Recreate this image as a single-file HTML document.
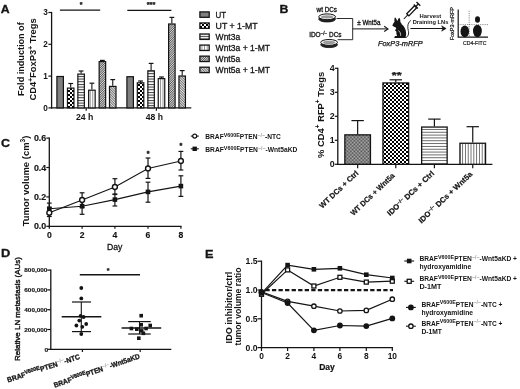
<!DOCTYPE html>
<html><head><meta charset="utf-8"><title>Figure</title>
<style>
html,body{margin:0;padding:0;background:#fff;}
svg{display:block;font-family:"Liberation Sans",sans-serif;filter:blur(0.35px);}
</style></head><body>
<svg width="520" height="389" viewBox="0 0 520 389">
<defs>
<pattern id="chk" width="4" height="4" patternUnits="userSpaceOnUse" x="68" y="92" shape-rendering="crispEdges"><rect width="4" height="4" fill="#000"/><rect width="2" height="2" fill="#fff"/><rect x="2" y="2" width="2" height="2" fill="#fff"/></pattern>
<pattern id="chkB" width="4" height="4" patternUnits="userSpaceOnUse" x="384" y="83" shape-rendering="crispEdges"><rect width="4" height="4" fill="#000"/><rect width="2" height="2" fill="#fff"/><rect x="2" y="2" width="2" height="2" fill="#fff"/></pattern>
<pattern id="hl" width="3" height="2.67" patternUnits="userSpaceOnUse" y="75.9"><rect width="3" height="2.67" fill="#fff"/><rect y="0" width="3" height="1" fill="#333"/></pattern>
<pattern id="hlB" width="3" height="2.83" patternUnits="userSpaceOnUse" y="128.95"><rect width="3" height="2.83" fill="#fff"/><rect y="0" width="3" height="0.95" fill="#666"/></pattern>
<pattern id="vl" width="2.6" height="3" patternUnits="userSpaceOnUse" x="89.75"><rect width="2.6" height="3" fill="#fff"/><rect x="0" width="0.9" height="3" fill="#888"/></pattern>
<pattern id="vlB" width="2.8" height="3" patternUnits="userSpaceOnUse" x="462.15"><rect width="2.8" height="3" fill="#fff"/><rect x="0" width="0.9" height="3" fill="#666"/></pattern>
<pattern id="fine" width="1.6" height="1.6" patternUnits="userSpaceOnUse" patternTransform="rotate(45)"><rect width="1.6" height="1.6" fill="#dcdcdc"/><rect width="0.8" height="1.6" fill="#555"/></pattern>
<pattern id="diag" width="1.8" height="1.8" patternUnits="userSpaceOnUse" patternTransform="rotate(-45)"><rect width="1.8" height="1.8" fill="#e2e2e2"/><rect width="0.8" height="1.8" fill="#666"/></pattern>
<pattern id="dots" width="1.4" height="1.4" patternUnits="userSpaceOnUse"><rect width="1.4" height="1.4" fill="#bbb"/><rect width="0.7" height="0.7" fill="#444"/><rect x="0.7" y="0.7" width="0.7" height="0.7" fill="#444"/></pattern>
</defs>
<rect width="520" height="389" fill="#fff"/>

<g id="panelA">
<text x="0.8" y="13.4" font-size="11.3" font-weight="bold" text-anchor="start" fill="#141414" textLength="8.9" lengthAdjust="spacingAndGlyphs" stroke="#141414" stroke-width="0.3" >A</text>
<line x1="51.6" y1="11.9" x2="51.6" y2="108.55000000000001" stroke="#141414" stroke-width="1.3" />
<line x1="50.95" y1="107.9" x2="191.3" y2="107.9" stroke="#141414" stroke-width="1.3" />
<line x1="48.4" y1="107.9" x2="51.6" y2="107.9" stroke="#141414" stroke-width="1.2" />
<text x="47.9" y="110.80000000000001" font-size="8.2" font-weight="bold" text-anchor="end" fill="#141414" >0</text>
<line x1="48.4" y1="76.1" x2="51.6" y2="76.1" stroke="#141414" stroke-width="1.2" />
<text x="47.9" y="79.0" font-size="8.2" font-weight="bold" text-anchor="end" fill="#141414" >1</text>
<line x1="48.4" y1="44.3" x2="51.6" y2="44.3" stroke="#141414" stroke-width="1.2" />
<text x="47.9" y="47.199999999999996" font-size="8.2" font-weight="bold" text-anchor="end" fill="#141414" >2</text>
<line x1="48.4" y1="12.5" x2="51.6" y2="12.5" stroke="#141414" stroke-width="1.2" />
<text x="47.9" y="15.4" font-size="8.2" font-weight="bold" text-anchor="end" fill="#141414" >3</text>
<text transform="translate(24.3,59.15) rotate(-90)" font-size="9.9" font-weight="bold" text-anchor="middle" fill="#141414" textLength="73.7" lengthAdjust="spacingAndGlyphs" >Fold induction of</text>
<text transform="translate(36,59.45) rotate(-90)" font-size="9.8" font-weight="bold" text-anchor="middle" fill="#141414" textLength="82.3" lengthAdjust="spacingAndGlyphs" ><tspan dy="0">CD4</tspan><tspan dy="-3.3" font-size="7">+</tspan><tspan dy="3.3">FoxP3</tspan><tspan dy="-3.3" font-size="7">+</tspan><tspan dy="3.3"> Tregs</tspan></text>
<rect x="56.90" y="76.50" width="6.50" height="31.40" fill="#7f7f7f" stroke="#141414" stroke-width="1.2"/>
<line x1="70.7" y1="87.5" x2="70.7" y2="83.5" stroke="#141414" stroke-width="1.1" />
<line x1="68.3" y1="83.5" x2="73.10000000000001" y2="83.5" stroke="#141414" stroke-width="1.2" />
<rect x="67.45" y="88.10" width="6.50" height="19.80" fill="url(#chk)" stroke="#141414" stroke-width="1.2"/>
<line x1="81.1" y1="73.5" x2="81.1" y2="71" stroke="#141414" stroke-width="1.1" />
<line x1="78.69999999999999" y1="71" x2="83.5" y2="71" stroke="#141414" stroke-width="1.2" />
<rect x="77.85" y="74.10" width="6.50" height="33.80" fill="url(#hl)" stroke="#141414" stroke-width="1.2"/>
<line x1="91.9" y1="89.6" x2="91.9" y2="83.2" stroke="#141414" stroke-width="1.1" />
<line x1="89.5" y1="83.2" x2="94.30000000000001" y2="83.2" stroke="#141414" stroke-width="1.2" />
<rect x="88.65" y="90.20" width="6.50" height="17.70" fill="url(#vl)" stroke="#141414" stroke-width="1.2"/>
<line x1="102.4" y1="61" x2="102.4" y2="60.4" stroke="#141414" stroke-width="1.1" />
<line x1="100.0" y1="60.4" x2="104.80000000000001" y2="60.4" stroke="#141414" stroke-width="1.2" />
<rect x="99.15" y="61.60" width="6.50" height="46.30" fill="url(#fine)" stroke="#141414" stroke-width="1.2"/>
<line x1="112.75" y1="85.8" x2="112.75" y2="79.6" stroke="#141414" stroke-width="1.1" />
<line x1="110.35" y1="79.6" x2="115.15" y2="79.6" stroke="#141414" stroke-width="1.2" />
<rect x="109.50" y="86.40" width="6.50" height="21.50" fill="url(#diag)" stroke="#141414" stroke-width="1.2"/>
<rect x="126.90" y="76.70" width="6.50" height="31.20" fill="#7f7f7f" stroke="#141414" stroke-width="1.2"/>
<line x1="140.55" y1="82.2" x2="140.55" y2="81" stroke="#141414" stroke-width="1.1" />
<line x1="138.15" y1="81" x2="142.95000000000002" y2="81" stroke="#141414" stroke-width="1.2" />
<rect x="137.30" y="82.80" width="6.50" height="25.10" fill="url(#chk)" stroke="#141414" stroke-width="1.2"/>
<line x1="151.1" y1="70.2" x2="151.1" y2="63.4" stroke="#141414" stroke-width="1.1" />
<line x1="148.7" y1="63.4" x2="153.5" y2="63.4" stroke="#141414" stroke-width="1.2" />
<rect x="147.85" y="70.80" width="6.50" height="37.10" fill="url(#hl)" stroke="#141414" stroke-width="1.2"/>
<line x1="161.5" y1="78" x2="161.5" y2="77" stroke="#141414" stroke-width="1.1" />
<line x1="159.1" y1="77" x2="163.9" y2="77" stroke="#141414" stroke-width="1.2" />
<rect x="158.25" y="78.60" width="6.50" height="29.30" fill="url(#vl)" stroke="#141414" stroke-width="1.2"/>
<line x1="171.85" y1="23.4" x2="171.85" y2="17.4" stroke="#141414" stroke-width="1.1" />
<line x1="169.45" y1="17.4" x2="174.25" y2="17.4" stroke="#141414" stroke-width="1.2" />
<rect x="168.60" y="24.00" width="6.50" height="83.90" fill="url(#fine)" stroke="#141414" stroke-width="1.2"/>
<line x1="182.2" y1="75.4" x2="182.2" y2="70.6" stroke="#141414" stroke-width="1.1" />
<line x1="179.79999999999998" y1="70.6" x2="184.6" y2="70.6" stroke="#141414" stroke-width="1.2" />
<rect x="178.95" y="76.00" width="6.50" height="31.90" fill="url(#diag)" stroke="#141414" stroke-width="1.2"/>
<line x1="86.2" y1="107.9" x2="86.2" y2="110.7" stroke="#141414" stroke-width="1.2" />
<line x1="156.4" y1="107.9" x2="156.4" y2="110.7" stroke="#141414" stroke-width="1.2" />
<text x="84.6" y="120" font-size="8.6" font-weight="bold" text-anchor="middle" fill="#141414" textLength="17.4" lengthAdjust="spacingAndGlyphs" >24 h</text>
<text x="154.4" y="120" font-size="8.6" font-weight="bold" text-anchor="middle" fill="#141414" textLength="17.2" lengthAdjust="spacingAndGlyphs" >48 h</text>
<line x1="59.9" y1="10.1" x2="100.2" y2="10.1" stroke="#141414" stroke-width="1.2" />
<line x1="127.3" y1="10.3" x2="171.4" y2="10.3" stroke="#141414" stroke-width="1.2" />
<text x="81.2" y="7.4" font-size="7" font-weight="bold" text-anchor="middle" fill="#141414" stroke="#141414" stroke-width="0.25" >*</text>
<text x="151" y="7.4" font-size="7" font-weight="bold" text-anchor="middle" fill="#141414" textLength="8.6" lengthAdjust="spacingAndGlyphs" stroke="#141414" stroke-width="0.25" >***</text>
<rect x="199.9" y="11.90" width="9.3" height="5.4" fill="#7f7f7f" stroke="#141414" stroke-width="1.3"/>
<text x="215.6" y="17.75" font-size="8.9" font-weight="normal" text-anchor="start" fill="#141414" textLength="10.6" lengthAdjust="spacingAndGlyphs" stroke="#141414" stroke-width="0.3" >UT</text>
<rect x="199.9" y="22.96" width="9.3" height="5.4" fill="url(#chk)" stroke="#141414" stroke-width="1.3"/>
<text x="215.6" y="28.81" font-size="8.9" font-weight="normal" text-anchor="start" fill="#141414" textLength="42" lengthAdjust="spacingAndGlyphs" stroke="#141414" stroke-width="0.3" >UT + 1-MT</text>
<rect x="199.9" y="34.02" width="9.3" height="5.4" fill="url(#hl)" stroke="#141414" stroke-width="1.3"/>
<text x="215.6" y="39.87" font-size="8.9" font-weight="normal" text-anchor="start" fill="#141414" textLength="24.6" lengthAdjust="spacingAndGlyphs" stroke="#141414" stroke-width="0.3" >Wnt3a</text>
<rect x="199.9" y="45.08" width="9.3" height="5.4" fill="url(#vl)" stroke="#141414" stroke-width="1.3"/>
<text x="215.6" y="50.93" font-size="8.9" font-weight="normal" text-anchor="start" fill="#141414" textLength="54.4" lengthAdjust="spacingAndGlyphs" stroke="#141414" stroke-width="0.3" >Wnt3a + 1-MT</text>
<rect x="199.9" y="56.14" width="9.3" height="5.4" fill="url(#fine)" stroke="#141414" stroke-width="1.3"/>
<text x="215.6" y="61.99" font-size="8.9" font-weight="normal" text-anchor="start" fill="#141414" textLength="24.6" lengthAdjust="spacingAndGlyphs" stroke="#141414" stroke-width="0.3" >Wnt5a</text>
<rect x="199.9" y="67.20" width="9.3" height="5.4" fill="url(#diag)" stroke="#141414" stroke-width="1.3"/>
<text x="215.6" y="73.05" font-size="8.9" font-weight="normal" text-anchor="start" fill="#141414" textLength="54.4" lengthAdjust="spacingAndGlyphs" stroke="#141414" stroke-width="0.3" >Wnt5a + 1-MT</text>
</g>
<g id="panelB">
<text x="279.6" y="13.1" font-size="11.3" font-weight="bold" text-anchor="start" fill="#141414" textLength="8.9" lengthAdjust="spacingAndGlyphs" stroke="#141414" stroke-width="0.3" >B</text>
<text x="316.6" y="12" font-size="6.4" font-weight="normal" text-anchor="start" fill="#141414" textLength="20.4" lengthAdjust="spacingAndGlyphs" stroke="#141414" stroke-width="0.3" >wt DCs</text>
<ellipse cx="327.1" cy="19.099999999999998" rx="8.4" ry="2.9" fill="#222" stroke="#141414" stroke-width="0.8"/>
<ellipse cx="327.1" cy="16.8" rx="8.4" ry="2.9" fill="#f4f4f4" stroke="#141414" stroke-width="1"/>
<ellipse cx="327.1" cy="16.9" rx="6.2" ry="1.7" fill="#9a9a9a" stroke="none"/>
<text x="309.2" y="37" font-size="6.4" font-weight="normal" text-anchor="start" fill="#141414" textLength="32.4" lengthAdjust="spacingAndGlyphs" stroke="#141414" stroke-width="0.3" ><tspan dy="0">IDO</tspan><tspan dy="-2.2" font-size="4.6">−/−</tspan><tspan dy="2.2"> DCs</tspan></text>
<ellipse cx="329.1" cy="44.699999999999996" rx="8.4" ry="2.9" fill="#222" stroke="#141414" stroke-width="0.8"/>
<ellipse cx="329.1" cy="42.4" rx="8.4" ry="2.9" fill="#f4f4f4" stroke="#141414" stroke-width="1"/>
<ellipse cx="329.1" cy="42.5" rx="6.2" ry="1.7" fill="#9a9a9a" stroke="none"/>
<path d="M336.5,18.5 H352.7 V39.7 H337.6" fill="none" stroke="#141414" stroke-width="0.9"/>
<line x1="352.7" y1="28.9" x2="387.4" y2="28.9" stroke="#141414" stroke-width="1" />
<path d="M384.2,26.3 L388,28.9 L384.2,31.5" fill="none" stroke="#141414" stroke-width="1.1"/>
<text x="357.3" y="25" font-size="6.4" font-weight="normal" text-anchor="start" fill="#141414" textLength="23.1" lengthAdjust="spacingAndGlyphs" stroke="#141414" stroke-width="0.3" >± Wnt5a</text>
<g fill="#141414" stroke="none">
<path d="M392.3,25.6 C393,24 393.8,22.6 394.6,21.6 C394.2,20 394.4,18.2 395,17.2 C396,18 396.6,19.2 396.9,20.4 L397.6,20.8 C397.9,19.6 398.5,18.4 399.4,17.8 C400.2,19 400.5,20.6 400.3,21.9 C401,22.6 401.4,23.4 401.7,24.2 C404,26 405.8,29 406.1,32.5 C406.3,34.8 405.9,36.6 405.3,37.9 L394.4,37.9 C394.2,37 394.6,36.3 395.6,36.1 L397.2,36 C396.4,34.8 396.2,33.2 396.5,31.8 L395.1,30.6 C395.2,29.6 395.7,29 396.4,28.7 C396,28.2 395.7,27.7 395.5,27.2 C394.2,27 393,26.4 392.3,25.6 Z"/>
</g>
<path d="M404.6,37.5 C408.6,37.6 409,33.5 408.3,30.6 C407.6,27.6 407.6,25 408.6,23 C409.2,21.8 410,21 410.9,20.4" fill="none" stroke="#141414" stroke-width="0.9"/>
<path d="M398.3,30.6 C399.9,31.4 400.9,33.4 400.6,35.8" fill="none" stroke="#fff" stroke-width="0.7"/>
<g transform="translate(411.7,10.8) rotate(-46)">
<rect x="-5.6" y="-1.5" width="11.2" height="3" fill="#fff" stroke="#141414" stroke-width="1.3"/>
<line x1="-5.6" y1="0" x2="-11.4" y2="0" stroke="#141414" stroke-width="1"/>
<line x1="5.6" y1="0" x2="9.6" y2="0" stroke="#141414" stroke-width="1.3"/>
<line x1="9.6" y1="-2.6" x2="9.6" y2="2.6" stroke="#141414" stroke-width="1.4"/>
<line x1="5.9" y1="-2.8" x2="5.9" y2="2.8" stroke="#141414" stroke-width="1.4"/>
</g>
<text x="419.6" y="17.6" font-size="6.2" font-weight="bold" text-anchor="start" fill="#141414" textLength="21.6" lengthAdjust="spacingAndGlyphs" >Harvest</text>
<text x="412.7" y="24.3" font-size="6.2" font-weight="bold" text-anchor="start" fill="#141414" textLength="35.7" lengthAdjust="spacingAndGlyphs" >Draining LNs</text>
<line x1="410.4" y1="28.5" x2="444" y2="28.5" stroke="#141414" stroke-width="1.2" />
<path d="M441.6,25.8 L446.2,28.5 L441.6,31.2 L442.8,28.5 Z" fill="#141414" stroke="#141414" stroke-width="0.5"/>
<text x="378" y="45.7" font-size="7.1" font-weight="normal" text-anchor="start" fill="#141414" textLength="44.7" lengthAdjust="spacingAndGlyphs" stroke="#141414" stroke-width="0.25" font-style="italic">FoxP3-mRFP</text>
<path d="M458.2,9.5 V37.2 H488" fill="none" stroke="#141414" stroke-width="1.2"/>
<line x1="469.2" y1="10.8" x2="469.2" y2="37" stroke="#333" stroke-width="0.6" stroke-dasharray="1.1 1.1"/>
<line x1="458.2" y1="24.6" x2="488" y2="24.6" stroke="#333" stroke-width="0.6" stroke-dasharray="1.1 1.1"/>
<ellipse cx="464.8" cy="31.4" rx="4.3" ry="5.8" fill="#141414"/>
<ellipse cx="477.4" cy="31" rx="4.4" ry="6.2" fill="#141414"/>
<ellipse cx="477.5" cy="19.5" rx="2.5" ry="3.3" fill="#141414"/>
<text transform="translate(454.3,23.7) rotate(-90)" font-size="5.8" font-weight="normal" text-anchor="middle" fill="#141414" textLength="33.3" lengthAdjust="spacingAndGlyphs" stroke="#141414" stroke-width="0.2" >FoxP3-mRFP</text>
<text x="463" y="44.9" font-size="6.2" font-weight="normal" text-anchor="start" fill="#141414" textLength="23.5" lengthAdjust="spacingAndGlyphs" stroke="#141414" stroke-width="0.2" >CD4-FITC</text>
<line x1="337.8" y1="67.7" x2="337.8" y2="164.95000000000002" stroke="#141414" stroke-width="1.3" />
<line x1="337.15000000000003" y1="164.3" x2="492.4" y2="164.3" stroke="#141414" stroke-width="1.3" />
<line x1="334.8" y1="164.3" x2="337.8" y2="164.3" stroke="#141414" stroke-width="1.2" />
<text x="334.6" y="167.4" font-size="8.8" font-weight="bold" text-anchor="end" fill="#141414" >0</text>
<line x1="334.8" y1="140.3" x2="337.8" y2="140.3" stroke="#141414" stroke-width="1.2" />
<text x="334.6" y="143.4" font-size="8.8" font-weight="bold" text-anchor="end" fill="#141414" >1</text>
<line x1="334.8" y1="116.3" x2="337.8" y2="116.3" stroke="#141414" stroke-width="1.2" />
<text x="334.6" y="119.39999999999999" font-size="8.8" font-weight="bold" text-anchor="end" fill="#141414" >2</text>
<line x1="334.8" y1="92.3" x2="337.8" y2="92.3" stroke="#141414" stroke-width="1.2" />
<text x="334.6" y="95.39999999999999" font-size="8.8" font-weight="bold" text-anchor="end" fill="#141414" >3</text>
<line x1="334.8" y1="68.3" x2="337.8" y2="68.3" stroke="#141414" stroke-width="1.2" />
<text x="334.6" y="71.39999999999999" font-size="8.8" font-weight="bold" text-anchor="end" fill="#141414" >4</text>
<text transform="translate(323.7,114.85) rotate(-90)" font-size="9.7" font-weight="bold" text-anchor="middle" fill="#141414" textLength="86.1" lengthAdjust="spacingAndGlyphs" ><tspan dy="0">% CD4</tspan><tspan dy="-3.3" font-size="6.9">+</tspan><tspan dy="3.3"> RFP</tspan><tspan dy="-3.3" font-size="6.9">+</tspan><tspan dy="3.3"> Tregs</tspan></text>
<line x1="357.65" y1="134.2" x2="357.65" y2="120.6" stroke="#141414" stroke-width="1.2" />
<line x1="351.45" y1="120.6" x2="363.84999999999997" y2="120.6" stroke="#141414" stroke-width="1.2" />
<rect x="344.85" y="134.85" width="25.60" height="29.45" fill="url(#dots)" stroke="#141414" stroke-width="1.3"/>
<line x1="357.65" y1="164.3" x2="357.65" y2="168.20000000000002" stroke="#141414" stroke-width="1.2" />
<text transform="translate(358.9,173.9) rotate(-43.5)" font-size="7.6" font-weight="bold" text-anchor="end" fill="#141414" textLength="50.5" lengthAdjust="spacingAndGlyphs" stroke="#141414" stroke-width="0.2" >WT DCs + Ctrl</text>
<line x1="395.8" y1="82.3" x2="395.8" y2="79.8" stroke="#141414" stroke-width="1.2" />
<line x1="389.6" y1="79.8" x2="402.0" y2="79.8" stroke="#141414" stroke-width="1.2" />
<rect x="382.95" y="82.95" width="25.70" height="81.35" fill="url(#chkB)" stroke="#141414" stroke-width="1.3"/>
<line x1="395.8" y1="164.3" x2="395.8" y2="168.20000000000002" stroke="#141414" stroke-width="1.2" />
<text transform="translate(395.3,176.3) rotate(-43.5)" font-size="7.6" font-weight="bold" text-anchor="end" fill="#141414" textLength="57.8" lengthAdjust="spacingAndGlyphs" stroke="#141414" stroke-width="0.2" >WT DCs + Wnt5a</text>
<line x1="434.4" y1="126.4" x2="434.4" y2="119.1" stroke="#141414" stroke-width="1.2" />
<line x1="428.2" y1="119.1" x2="440.59999999999997" y2="119.1" stroke="#141414" stroke-width="1.2" />
<rect x="421.65" y="127.05" width="25.50" height="37.25" fill="url(#hlB)" stroke="#141414" stroke-width="1.3"/>
<line x1="434.4" y1="164.3" x2="434.4" y2="168.20000000000002" stroke="#141414" stroke-width="1.2" />
<text transform="translate(434.7,174) rotate(-43.5)" font-size="7.6" font-weight="bold" text-anchor="end" fill="#141414" textLength="61.5" lengthAdjust="spacingAndGlyphs" stroke="#141414" stroke-width="0.2" ><tspan dy="0">IDO</tspan><tspan dy="-2.4" font-size="5">−/−</tspan><tspan dy="2.4"> DCs + </tspan><tspan dy="0">Ctrl</tspan></text>
<line x1="472.75" y1="142.6" x2="472.75" y2="126.7" stroke="#141414" stroke-width="1.2" />
<line x1="466.55" y1="126.7" x2="478.95" y2="126.7" stroke="#141414" stroke-width="1.2" />
<rect x="459.95" y="143.25" width="25.60" height="21.05" fill="url(#vlB)" stroke="#141414" stroke-width="1.3"/>
<line x1="472.75" y1="164.3" x2="472.75" y2="168.20000000000002" stroke="#141414" stroke-width="1.2" />
<text transform="translate(473,174.7) rotate(-43.5)" font-size="7.6" font-weight="bold" text-anchor="end" fill="#141414" textLength="71.1" lengthAdjust="spacingAndGlyphs" stroke="#141414" stroke-width="0.2" ><tspan dy="0">IDO</tspan><tspan dy="-2.4" font-size="5">−/−</tspan><tspan dy="2.4"> DCs + </tspan><tspan dy="0">Wnt5a</tspan></text>
<text x="396.7" y="78.2" font-size="9" font-weight="bold" text-anchor="middle" fill="#141414" textLength="9.8" lengthAdjust="spacingAndGlyphs" stroke="#141414" stroke-width="0.25" >**</text>
</g>
<g id="panelC">
<text x="0.9" y="146.6" font-size="11.6" font-weight="bold" text-anchor="start" fill="#141414" textLength="9" lengthAdjust="spacingAndGlyphs" stroke="#141414" stroke-width="0.3" >C</text>
<line x1="49.3" y1="137.5" x2="49.3" y2="226.95000000000002" stroke="#141414" stroke-width="1.3" />
<line x1="48.65" y1="226.3" x2="181.5" y2="226.3" stroke="#141414" stroke-width="1.3" />
<line x1="46.3" y1="226.3" x2="49.3" y2="226.3" stroke="#141414" stroke-width="1.2" />
<text x="33.9" y="229.3" font-size="8.5" font-weight="bold" text-anchor="start" fill="#141414" textLength="12.4" lengthAdjust="spacingAndGlyphs" stroke="#141414" stroke-width="0.15" >0.0</text>
<line x1="46.3" y1="196.9" x2="49.3" y2="196.9" stroke="#141414" stroke-width="1.2" />
<text x="33.9" y="199.9" font-size="8.5" font-weight="bold" text-anchor="start" fill="#141414" textLength="12.4" lengthAdjust="spacingAndGlyphs" stroke="#141414" stroke-width="0.15" >0.2</text>
<line x1="46.3" y1="167.5" x2="49.3" y2="167.5" stroke="#141414" stroke-width="1.2" />
<text x="33.9" y="170.5" font-size="8.5" font-weight="bold" text-anchor="start" fill="#141414" textLength="12.4" lengthAdjust="spacingAndGlyphs" stroke="#141414" stroke-width="0.15" >0.4</text>
<line x1="46.3" y1="138.1" x2="49.3" y2="138.1" stroke="#141414" stroke-width="1.2" />
<text x="33.9" y="141.1" font-size="8.5" font-weight="bold" text-anchor="start" fill="#141414" textLength="12.4" lengthAdjust="spacingAndGlyphs" stroke="#141414" stroke-width="0.15" >0.6</text>
<line x1="49.3" y1="226.3" x2="49.3" y2="228.70000000000002" stroke="#141414" stroke-width="1.2" />
<text x="49.3" y="237.7" font-size="8.6" font-weight="bold" text-anchor="middle" fill="#141414" stroke="#141414" stroke-width="0.15" >0</text>
<line x1="82.1" y1="226.3" x2="82.1" y2="228.70000000000002" stroke="#141414" stroke-width="1.2" />
<text x="82.1" y="237.7" font-size="8.6" font-weight="bold" text-anchor="middle" fill="#141414" stroke="#141414" stroke-width="0.15" >2</text>
<line x1="114.9" y1="226.3" x2="114.9" y2="228.70000000000002" stroke="#141414" stroke-width="1.2" />
<text x="114.9" y="237.7" font-size="8.6" font-weight="bold" text-anchor="middle" fill="#141414" stroke="#141414" stroke-width="0.15" >4</text>
<line x1="148" y1="226.3" x2="148" y2="228.70000000000002" stroke="#141414" stroke-width="1.2" />
<text x="148" y="237.7" font-size="8.6" font-weight="bold" text-anchor="middle" fill="#141414" stroke="#141414" stroke-width="0.15" >6</text>
<line x1="180.9" y1="226.3" x2="180.9" y2="228.70000000000002" stroke="#141414" stroke-width="1.2" />
<text x="180.9" y="237.7" font-size="8.6" font-weight="bold" text-anchor="middle" fill="#141414" stroke="#141414" stroke-width="0.15" >8</text>
<text x="106.9" y="250.1" font-size="9.2" font-weight="normal" text-anchor="start" fill="#141414" textLength="15.4" lengthAdjust="spacingAndGlyphs" stroke="#141414" stroke-width="0.3" >Day</text>
<text transform="translate(28.5,181) rotate(-90)" font-size="9.8" font-weight="bold" text-anchor="middle" fill="#141414" textLength="90.7" lengthAdjust="spacingAndGlyphs" ><tspan dy="0">Tumor volume (cm</tspan><tspan dy="-3.4" font-size="6.8">3</tspan><tspan dy="3.4">)</tspan></text>
<polyline points="49.3,208.8 82.1,206.2 114.9,199.6 148,191.9 180.9,186.1" fill="none" stroke="#141414" stroke-width="1.1"/>
<polyline points="49.3,212.8 82.1,200 114.9,187 148,168.4 180.9,161" fill="none" stroke="#141414" stroke-width="1.1"/>
<line x1="49.3" y1="203.1" x2="49.3" y2="214.5" stroke="#141414" stroke-width="1.2" />
<line x1="46.9" y1="203.1" x2="51.699999999999996" y2="203.1" stroke="#141414" stroke-width="1.2" />
<line x1="46.9" y1="214.5" x2="51.699999999999996" y2="214.5" stroke="#141414" stroke-width="1.2" />
<line x1="82.1" y1="200" x2="82.1" y2="214.3" stroke="#141414" stroke-width="1.2" />
<line x1="79.69999999999999" y1="200" x2="84.5" y2="200" stroke="#141414" stroke-width="1.2" />
<line x1="79.69999999999999" y1="214.3" x2="84.5" y2="214.3" stroke="#141414" stroke-width="1.2" />
<line x1="114.9" y1="194" x2="114.9" y2="206" stroke="#141414" stroke-width="1.2" />
<line x1="112.5" y1="194" x2="117.30000000000001" y2="194" stroke="#141414" stroke-width="1.2" />
<line x1="112.5" y1="206" x2="117.30000000000001" y2="206" stroke="#141414" stroke-width="1.2" />
<line x1="148" y1="182.2" x2="148" y2="202.2" stroke="#141414" stroke-width="1.2" />
<line x1="145.6" y1="182.2" x2="150.4" y2="182.2" stroke="#141414" stroke-width="1.2" />
<line x1="145.6" y1="202.2" x2="150.4" y2="202.2" stroke="#141414" stroke-width="1.2" />
<line x1="180.9" y1="175.8" x2="180.9" y2="196.4" stroke="#141414" stroke-width="1.2" />
<line x1="178.5" y1="175.8" x2="183.3" y2="175.8" stroke="#141414" stroke-width="1.2" />
<line x1="178.5" y1="196.4" x2="183.3" y2="196.4" stroke="#141414" stroke-width="1.2" />
<line x1="49.3" y1="207.5" x2="49.3" y2="216.5" stroke="#141414" stroke-width="1.2" />
<line x1="46.9" y1="207.5" x2="51.699999999999996" y2="207.5" stroke="#141414" stroke-width="1.2" />
<line x1="46.9" y1="216.5" x2="51.699999999999996" y2="216.5" stroke="#141414" stroke-width="1.2" />
<line x1="82.1" y1="192.8" x2="82.1" y2="207.5" stroke="#141414" stroke-width="1.2" />
<line x1="79.69999999999999" y1="192.8" x2="84.5" y2="192.8" stroke="#141414" stroke-width="1.2" />
<line x1="79.69999999999999" y1="207.5" x2="84.5" y2="207.5" stroke="#141414" stroke-width="1.2" />
<line x1="114.9" y1="178.7" x2="114.9" y2="194.5" stroke="#141414" stroke-width="1.2" />
<line x1="112.5" y1="178.7" x2="117.30000000000001" y2="178.7" stroke="#141414" stroke-width="1.2" />
<line x1="112.5" y1="194.5" x2="117.30000000000001" y2="194.5" stroke="#141414" stroke-width="1.2" />
<line x1="148" y1="158" x2="148" y2="178.4" stroke="#141414" stroke-width="1.2" />
<line x1="145.6" y1="158" x2="150.4" y2="158" stroke="#141414" stroke-width="1.2" />
<line x1="145.6" y1="178.4" x2="150.4" y2="178.4" stroke="#141414" stroke-width="1.2" />
<line x1="180.9" y1="151.4" x2="180.9" y2="170" stroke="#141414" stroke-width="1.2" />
<line x1="178.5" y1="151.4" x2="183.3" y2="151.4" stroke="#141414" stroke-width="1.2" />
<line x1="178.5" y1="170" x2="183.3" y2="170" stroke="#141414" stroke-width="1.2" />
<rect x="47.0" y="206.5" width="4.6" height="4.6" fill="#141414"/>
<rect x="79.8" y="203.89999999999998" width="4.6" height="4.6" fill="#141414"/>
<rect x="112.60000000000001" y="197.29999999999998" width="4.6" height="4.6" fill="#141414"/>
<rect x="145.7" y="189.6" width="4.6" height="4.6" fill="#141414"/>
<rect x="178.6" y="183.79999999999998" width="4.6" height="4.6" fill="#141414"/>
<circle cx="49.3" cy="212.8" r="2.45" fill="#fff" stroke="#141414" stroke-width="1.4"/>
<circle cx="82.1" cy="200" r="2.45" fill="#fff" stroke="#141414" stroke-width="1.4"/>
<circle cx="114.9" cy="187" r="2.45" fill="#fff" stroke="#141414" stroke-width="1.4"/>
<circle cx="148" cy="168.4" r="2.45" fill="#fff" stroke="#141414" stroke-width="1.4"/>
<circle cx="180.9" cy="161" r="2.45" fill="#fff" stroke="#141414" stroke-width="1.4"/>
<text x="148.1" y="155.9" font-size="7.2" font-weight="bold" text-anchor="middle" fill="#141414" stroke="#141414" stroke-width="0.4" >*</text>
<text x="180.9" y="148.0" font-size="7.2" font-weight="bold" text-anchor="middle" fill="#141414" stroke="#141414" stroke-width="0.4" >*</text>
<line x1="190.8" y1="136.1" x2="198.8" y2="136.1" stroke="#141414" stroke-width="1.1" />
<circle cx="194.7" cy="136.1" r="2" fill="#fff" stroke="#141414" stroke-width="1.2"/>
<line x1="190.8" y1="148.8" x2="198.8" y2="148.8" stroke="#141414" stroke-width="1.1" />
<rect x="192.5" y="146.6" width="4.4" height="4.4" fill="#141414"/>
<text x="205.3" y="139.3" font-size="6.9" font-weight="bold" text-anchor="start" fill="#141414" textLength="75.5" lengthAdjust="spacingAndGlyphs" ><tspan dy="0">BRAF</tspan><tspan dy="-2.6" font-size="5.6">V600E</tspan><tspan dy="2.6">PTEN</tspan><tspan dy="-2.6" font-size="5.4" fill="#999" stroke="none">−/−</tspan><tspan dy="2.6">-NTC</tspan></text>
<text x="205.3" y="152.2" font-size="6.9" font-weight="bold" text-anchor="start" fill="#141414" textLength="92.1" lengthAdjust="spacingAndGlyphs" ><tspan dy="0">BRAF</tspan><tspan dy="-2.6" font-size="5.6">V600E</tspan><tspan dy="2.6">PTEN</tspan><tspan dy="-2.6" font-size="5.4" fill="#999" stroke="none">−/−</tspan><tspan dy="2.6">-Wnt5aKD</tspan></text>
</g>
<g id="panelD">
<text x="0.9" y="257.2" font-size="11.4" font-weight="bold" text-anchor="start" fill="#141414" textLength="9.3" lengthAdjust="spacingAndGlyphs" stroke="#141414" stroke-width="0.3" >D</text>
<line x1="50.8" y1="269.5" x2="50.8" y2="349.95" stroke="#141414" stroke-width="1.3" />
<line x1="50.15" y1="349.3" x2="171.3" y2="349.3" stroke="#141414" stroke-width="1.3" />
<line x1="47.199999999999996" y1="349.3" x2="50.8" y2="349.3" stroke="#141414" stroke-width="1.2" />
<text x="44.4" y="351.5" font-size="6.2" font-weight="bold" text-anchor="start" fill="#141414" textLength="3.7" lengthAdjust="spacingAndGlyphs" stroke="#141414" stroke-width="0.15" >0</text>
<line x1="47.199999999999996" y1="329.5" x2="50.8" y2="329.5" stroke="#141414" stroke-width="1.2" />
<text x="24.3" y="331.7" font-size="6.2" font-weight="bold" text-anchor="start" fill="#141414" textLength="23.1" lengthAdjust="spacingAndGlyphs" stroke="#141414" stroke-width="0.15" >200,000</text>
<line x1="47.199999999999996" y1="309.7" x2="50.8" y2="309.7" stroke="#141414" stroke-width="1.2" />
<text x="24.3" y="311.9" font-size="6.2" font-weight="bold" text-anchor="start" fill="#141414" textLength="23.1" lengthAdjust="spacingAndGlyphs" stroke="#141414" stroke-width="0.15" >400,000</text>
<line x1="47.199999999999996" y1="289.9" x2="50.8" y2="289.9" stroke="#141414" stroke-width="1.2" />
<text x="24.3" y="292.09999999999997" font-size="6.2" font-weight="bold" text-anchor="start" fill="#141414" textLength="23.1" lengthAdjust="spacingAndGlyphs" stroke="#141414" stroke-width="0.15" >600,000</text>
<line x1="47.199999999999996" y1="270.1" x2="50.8" y2="270.1" stroke="#141414" stroke-width="1.2" />
<text x="24.3" y="272.3" font-size="6.2" font-weight="bold" text-anchor="start" fill="#141414" textLength="23.1" lengthAdjust="spacingAndGlyphs" stroke="#141414" stroke-width="0.15" >800,000</text>
<text transform="translate(19.6,309.05) rotate(-90)" font-size="7.4" font-weight="normal" text-anchor="middle" fill="#141414" textLength="103.9" lengthAdjust="spacingAndGlyphs" stroke="#141414" stroke-width="0.4" >Relative LN metastasis (AUs)</text>
<line x1="82.4" y1="349.3" x2="82.4" y2="351.90000000000003" stroke="#141414" stroke-width="1.2" />
<line x1="140.2" y1="349.3" x2="140.2" y2="351.90000000000003" stroke="#141414" stroke-width="1.2" />
<line x1="61.7" y1="316.7" x2="101.3" y2="316.7" stroke="#141414" stroke-width="1.4" />
<line x1="81.3" y1="302" x2="81.3" y2="331.6" stroke="#141414" stroke-width="1.1" />
<line x1="72" y1="302" x2="91" y2="302" stroke="#141414" stroke-width="1.2" />
<line x1="72" y1="331.6" x2="91" y2="331.6" stroke="#141414" stroke-width="1.2" />
<line x1="121.6" y1="328" x2="161.2" y2="328" stroke="#141414" stroke-width="1.4" />
<line x1="139.5" y1="321.6" x2="139.5" y2="334" stroke="#141414" stroke-width="1.1" />
<line x1="128.2" y1="321.6" x2="150.7" y2="321.6" stroke="#141414" stroke-width="1.2" />
<line x1="128.2" y1="334" x2="150.7" y2="334" stroke="#141414" stroke-width="1.2" />
<circle cx="81.3" cy="288" r="1.9" fill="#141414"/>
<circle cx="81.3" cy="298.4" r="1.9" fill="#141414"/>
<circle cx="80.6" cy="315.8" r="1.9" fill="#141414"/>
<circle cx="83.6" cy="317" r="1.9" fill="#141414"/>
<circle cx="79.3" cy="320.6" r="1.9" fill="#141414"/>
<circle cx="86.2" cy="324" r="1.9" fill="#141414"/>
<circle cx="76.4" cy="325.5" r="1.9" fill="#141414"/>
<circle cx="82.3" cy="326.8" r="1.9" fill="#141414"/>
<circle cx="81.3" cy="334" r="1.9" fill="#141414"/>
<rect x="139.39999999999998" y="313.9" width="3.6" height="3.6" fill="#141414"/>
<rect x="139.39999999999998" y="323.0" width="3.6" height="3.6" fill="#141414"/>
<rect x="148.39999999999998" y="323.7" width="3.6" height="3.6" fill="#141414"/>
<rect x="129.6" y="326.7" width="3.6" height="3.6" fill="#141414"/>
<rect x="135.0" y="327.4" width="3.6" height="3.6" fill="#141414"/>
<rect x="144.29999999999998" y="326.7" width="3.6" height="3.6" fill="#141414"/>
<rect x="139.89999999999998" y="329.09999999999997" width="3.6" height="3.6" fill="#141414"/>
<rect x="141.6" y="331.5" width="3.6" height="3.6" fill="#141414"/>
<rect x="137.0" y="336.4" width="3.6" height="3.6" fill="#141414"/>
<line x1="79.8" y1="274.7" x2="140" y2="274.7" stroke="#141414" stroke-width="1.4" />
<text x="108.2" y="273.0" font-size="7.2" font-weight="bold" text-anchor="middle" fill="#141414" stroke="#141414" stroke-width="0.25" >*</text>
<text transform="translate(80.4,358.8) rotate(-18.2)" font-size="7.2" font-weight="bold" text-anchor="end" fill="#141414" textLength="76.1" lengthAdjust="spacingAndGlyphs" stroke="#141414" stroke-width="0.3" ><tspan dy="0">BRAF</tspan><tspan dy="-2.6" font-size="5.6">V600E</tspan><tspan dy="2.6">PTEN</tspan><tspan dy="-2.6" font-size="5.4" fill="#999" stroke="none">−/−</tspan><tspan dy="2.6">-NTC</tspan></text>
<text transform="translate(140.4,358.1) rotate(-19.1)" font-size="7.2" font-weight="bold" text-anchor="end" fill="#141414" textLength="90.6" lengthAdjust="spacingAndGlyphs" stroke="#141414" stroke-width="0.3" ><tspan dy="0">BRAF</tspan><tspan dy="-2.6" font-size="5.6">V600E</tspan><tspan dy="2.6">PTEN</tspan><tspan dy="-2.6" font-size="5.4" fill="#999" stroke="none">−/−</tspan><tspan dy="2.6">-Wnt5aKD</tspan></text>
</g>
<g id="panelE">
<text x="204.9" y="257.5" font-size="11.8" font-weight="bold" text-anchor="start" fill="#141414" textLength="8.5" lengthAdjust="spacingAndGlyphs" stroke="#141414" stroke-width="0.3" >E</text>
<line x1="261.5" y1="260.59999999999997" x2="261.5" y2="348.25" stroke="#141414" stroke-width="1.3" />
<line x1="260.85" y1="347.6" x2="393" y2="347.6" stroke="#141414" stroke-width="1.3" />
<line x1="257.5" y1="347.6" x2="261.5" y2="347.6" stroke="#141414" stroke-width="1.2" />
<text x="245.6" y="350.6" font-size="8.5" font-weight="bold" text-anchor="start" fill="#141414" textLength="12" lengthAdjust="spacingAndGlyphs" >0.0</text>
<line x1="257.5" y1="318.8" x2="261.5" y2="318.8" stroke="#141414" stroke-width="1.2" />
<text x="245.6" y="321.8" font-size="8.5" font-weight="bold" text-anchor="start" fill="#141414" textLength="12" lengthAdjust="spacingAndGlyphs" >0.5</text>
<line x1="257.5" y1="290.0" x2="261.5" y2="290.0" stroke="#141414" stroke-width="1.2" />
<text x="245.6" y="293.0" font-size="8.5" font-weight="bold" text-anchor="start" fill="#141414" textLength="12" lengthAdjust="spacingAndGlyphs" >1.0</text>
<line x1="257.5" y1="261.2" x2="261.5" y2="261.2" stroke="#141414" stroke-width="1.2" />
<text x="245.6" y="264.2" font-size="8.5" font-weight="bold" text-anchor="start" fill="#141414" textLength="12" lengthAdjust="spacingAndGlyphs" >1.5</text>
<line x1="261.5" y1="347.6" x2="261.5" y2="351.0" stroke="#141414" stroke-width="1.2" />
<text x="261.5" y="359.3" font-size="8.4" font-weight="bold" text-anchor="middle" fill="#141414" >0</text>
<line x1="287.6" y1="347.6" x2="287.6" y2="351.0" stroke="#141414" stroke-width="1.2" />
<text x="287.6" y="359.3" font-size="8.4" font-weight="bold" text-anchor="middle" fill="#141414" >2</text>
<line x1="313.9" y1="347.6" x2="313.9" y2="351.0" stroke="#141414" stroke-width="1.2" />
<text x="313.9" y="359.3" font-size="8.4" font-weight="bold" text-anchor="middle" fill="#141414" >4</text>
<line x1="339.9" y1="347.6" x2="339.9" y2="351.0" stroke="#141414" stroke-width="1.2" />
<text x="339.9" y="359.3" font-size="8.4" font-weight="bold" text-anchor="middle" fill="#141414" >6</text>
<line x1="366.3" y1="347.6" x2="366.3" y2="351.0" stroke="#141414" stroke-width="1.2" />
<text x="366.3" y="359.3" font-size="8.4" font-weight="bold" text-anchor="middle" fill="#141414" >8</text>
<line x1="392.3" y1="347.6" x2="392.3" y2="351.0" stroke="#141414" stroke-width="1.2" />
<text x="392.3" y="359.3" font-size="8.4" font-weight="bold" text-anchor="middle" fill="#141414" >10</text>
<text x="319.2" y="370.3" font-size="8.5" font-weight="bold" text-anchor="start" fill="#141414" textLength="15.6" lengthAdjust="spacingAndGlyphs" stroke="#141414" stroke-width="0.2" >Day</text>
<text transform="translate(232.2,307.5) rotate(-90)" font-size="9.2" font-weight="bold" text-anchor="middle" fill="#141414" textLength="71.8" lengthAdjust="spacingAndGlyphs" >IDO inhibitor/ctrl</text>
<text transform="translate(241.2,306.5) rotate(-90)" font-size="9.2" font-weight="bold" text-anchor="middle" fill="#141414" textLength="77.8" lengthAdjust="spacingAndGlyphs" >tumor volume ratio</text>
<line x1="265.4" y1="290.1" x2="393" y2="290.1" stroke="#141414" stroke-width="2.1" stroke-dasharray="4.3 2.25"/>
<polyline points="261.5,291.8 287.6,301.4 313.9,306.2 339.9,311 366.3,310.4 392.3,299.2" fill="none" stroke="#141414" stroke-width="1.2"/>
<polyline points="261.5,292.5 287.6,303 313.9,330.3 339.9,325.5 366.3,326.1 392.3,318.4" fill="none" stroke="#141414" stroke-width="1.2"/>
<polyline points="261.5,294.3 287.6,269.9 313.9,286 339.9,277.3 366.3,282.1 392.3,281.2" fill="none" stroke="#141414" stroke-width="1.2"/>
<polyline points="261.5,293.4 287.6,265.1 313.9,269.3 339.9,268.3 366.3,274.7 392.3,278" fill="none" stroke="#141414" stroke-width="1.2"/>
<circle cx="261.5" cy="291.8" r="2.2" fill="#fff" stroke="#141414" stroke-width="1.3"/>
<circle cx="287.6" cy="301.4" r="2.2" fill="#fff" stroke="#141414" stroke-width="1.3"/>
<circle cx="313.9" cy="306.2" r="2.2" fill="#fff" stroke="#141414" stroke-width="1.3"/>
<circle cx="339.9" cy="311" r="2.2" fill="#fff" stroke="#141414" stroke-width="1.3"/>
<circle cx="366.3" cy="310.4" r="2.2" fill="#fff" stroke="#141414" stroke-width="1.3"/>
<circle cx="392.3" cy="299.2" r="2.2" fill="#fff" stroke="#141414" stroke-width="1.3"/>
<circle cx="261.5" cy="292.5" r="2.9" fill="#141414"/>
<circle cx="287.6" cy="303" r="2.9" fill="#141414"/>
<circle cx="313.9" cy="330.3" r="2.9" fill="#141414"/>
<circle cx="339.9" cy="325.5" r="2.9" fill="#141414"/>
<circle cx="366.3" cy="326.1" r="2.9" fill="#141414"/>
<circle cx="392.3" cy="318.4" r="2.9" fill="#141414"/>
<rect x="259.5" y="292.3" width="4" height="4" fill="#fff" stroke="#141414" stroke-width="1.3"/>
<rect x="285.6" y="267.9" width="4" height="4" fill="#fff" stroke="#141414" stroke-width="1.3"/>
<rect x="311.9" y="284" width="4" height="4" fill="#fff" stroke="#141414" stroke-width="1.3"/>
<rect x="337.9" y="275.3" width="4" height="4" fill="#fff" stroke="#141414" stroke-width="1.3"/>
<rect x="364.3" y="280.1" width="4" height="4" fill="#fff" stroke="#141414" stroke-width="1.3"/>
<rect x="390.3" y="279.2" width="4" height="4" fill="#fff" stroke="#141414" stroke-width="1.3"/>
<rect x="259.2" y="291.09999999999997" width="4.6" height="4.6" fill="#141414"/>
<rect x="285.3" y="262.8" width="4.6" height="4.6" fill="#141414"/>
<rect x="311.59999999999997" y="267.0" width="4.6" height="4.6" fill="#141414"/>
<rect x="337.59999999999997" y="266.0" width="4.6" height="4.6" fill="#141414"/>
<rect x="364.0" y="272.4" width="4.6" height="4.6" fill="#141414"/>
<rect x="390.0" y="275.7" width="4.6" height="4.6" fill="#141414"/>
<line x1="404.3" y1="261" x2="414.09999999999997" y2="261" stroke="#141414" stroke-width="1.1" />
<line x1="404.3" y1="281.3" x2="414.09999999999997" y2="281.3" stroke="#141414" stroke-width="1.1" />
<line x1="406.0" y1="307.4" x2="415.79999999999995" y2="307.4" stroke="#141414" stroke-width="1.1" />
<line x1="406.0" y1="326.2" x2="415.79999999999995" y2="326.2" stroke="#141414" stroke-width="1.1" />
<rect x="406.9" y="258.7" width="4.6" height="4.6" fill="#141414"/>
<rect x="407.2" y="279.3" width="4" height="4" fill="#fff" stroke="#141414" stroke-width="1.3"/>
<circle cx="410.9" cy="307.4" r="2.9" fill="#141414"/>
<circle cx="410.9" cy="326.2" r="2.2" fill="#fff" stroke="#141414" stroke-width="1.3"/>
<text x="419.4" y="261.2" font-size="6.9" font-weight="bold" text-anchor="start" fill="#141414" textLength="97.6" lengthAdjust="spacingAndGlyphs" ><tspan dy="0">BRAF</tspan><tspan dy="-2.6" font-size="5.6">V600E</tspan><tspan dy="2.6">PTEN</tspan><tspan dy="-2.6" font-size="5.4" fill="#999" stroke="none">−/−</tspan><tspan dy="2.6">-Wnt5aKD +</tspan></text>
<text x="419.4" y="268.6" font-size="6.9" font-weight="bold" text-anchor="start" fill="#141414" textLength="51.8" lengthAdjust="spacingAndGlyphs" >hydroxyamidine</text>
<text x="419.4" y="281.3" font-size="6.9" font-weight="bold" text-anchor="start" fill="#141414" textLength="97.6" lengthAdjust="spacingAndGlyphs" ><tspan dy="0">BRAF</tspan><tspan dy="-2.6" font-size="5.6">V600E</tspan><tspan dy="2.6">PTEN</tspan><tspan dy="-2.6" font-size="5.4" fill="#999" stroke="none">−/−</tspan><tspan dy="2.6">-Wnt5aKD +</tspan></text>
<text x="419.4" y="288.6" font-size="6.9" font-weight="bold" text-anchor="start" fill="#141414" textLength="22" lengthAdjust="spacingAndGlyphs" >D-1MT</text>
<text x="421.4" y="306.6" font-size="6.9" font-weight="bold" text-anchor="start" fill="#141414" textLength="81" lengthAdjust="spacingAndGlyphs" ><tspan dy="0">BRAF</tspan><tspan dy="-2.6" font-size="5.6">V600E</tspan><tspan dy="2.6">PTEN</tspan><tspan dy="-2.6" font-size="5.4" fill="#999" stroke="none">−/−</tspan><tspan dy="2.6">-NTC +</tspan></text>
<text x="421.4" y="314.6" font-size="6.9" font-weight="bold" text-anchor="start" fill="#141414" textLength="51.7" lengthAdjust="spacingAndGlyphs" >hydroxyamidine</text>
<text x="421.4" y="325.7" font-size="6.9" font-weight="bold" text-anchor="start" fill="#141414" textLength="81" lengthAdjust="spacingAndGlyphs" ><tspan dy="0">BRAF</tspan><tspan dy="-2.6" font-size="5.6">V600E</tspan><tspan dy="2.6">PTEN</tspan><tspan dy="-2.6" font-size="5.4" fill="#999" stroke="none">−/−</tspan><tspan dy="2.6">-NTC +</tspan></text>
<text x="421.4" y="333.5" font-size="6.9" font-weight="bold" text-anchor="start" fill="#141414" textLength="20.5" lengthAdjust="spacingAndGlyphs" >D-1MT</text>
</g>
</svg></body></html>
